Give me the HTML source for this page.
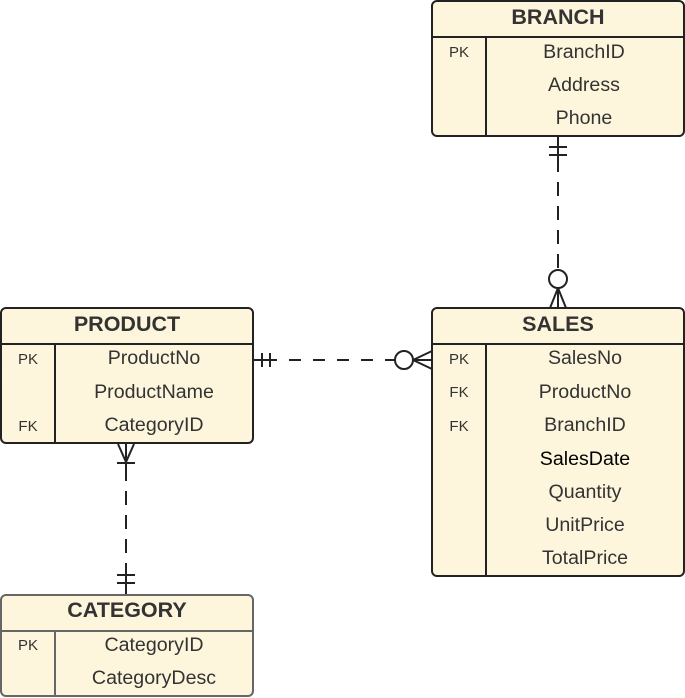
<!DOCTYPE html>
<html><head><meta charset="utf-8"><style>
html,body{margin:0;padding:0;background:#fff;}
svg{display:block;}
text{font-family:"Liberation Sans",sans-serif;fill:#333;}
.h{font-weight:bold;font-size:21.5px;}
.f{font-size:19.6px;}
.k{font-size:15px;}
</style></head><body>
<svg width="685" height="698" viewBox="0 0 685 698" xmlns="http://www.w3.org/2000/svg">
<g stroke="#222" stroke-width="2" fill="none">
<line x1="558" y1="136" x2="558" y2="270" stroke-dasharray="14 10" stroke-dashoffset="-22"/>
<line x1="558" y1="136" x2="558" y2="160"/>
<line x1="549" y1="147" x2="567" y2="147"/>
<line x1="549" y1="155" x2="567" y2="155"/>
<circle cx="558" cy="279" r="9" fill="#fff"/>
<line x1="558" y1="288" x2="558" y2="308"/>
<line x1="558" y1="288" x2="550" y2="308"/>
<line x1="558" y1="288" x2="566" y2="308"/>
<line x1="253" y1="360" x2="395" y2="360" stroke-dasharray="12 12" stroke-dashoffset="-12"/>
<line x1="253" y1="360" x2="276" y2="360"/>
<line x1="262" y1="353" x2="262" y2="367"/>
<line x1="270" y1="353" x2="270" y2="367"/>
<circle cx="404" cy="360" r="9" fill="#fff"/>
<line x1="413" y1="360" x2="432" y2="360"/>
<line x1="413" y1="360" x2="432" y2="351"/>
<line x1="413" y1="360" x2="432" y2="369"/>
<line x1="126" y1="443" x2="126" y2="595" stroke-dasharray="14 10" stroke-dashoffset="-24"/>
<line x1="126" y1="443" x2="126" y2="470"/>
<line x1="126" y1="462" x2="118" y2="444"/>
<line x1="126" y1="462" x2="134" y2="444"/>
<line x1="117" y1="463" x2="135" y2="463"/>
<line x1="126" y1="568" x2="126" y2="595"/>
<line x1="117" y1="575" x2="135" y2="575"/>
<line x1="117" y1="583" x2="135" y2="583"/>
</g>
<g stroke="#222" stroke-width="2">
<rect x="432" y="1" width="252" height="135" rx="5" fill="#fdf6dc"/>
<line x1="432" y1="37" x2="684" y2="37"/>
<line x1="486" y1="37" x2="486" y2="136"/>
</g>
<text class="h" x="558" y="24" text-anchor="middle">BRANCH</text>
<text class="k" x="459" y="57" text-anchor="middle">PK</text>
<text class="f" x="584" y="58" text-anchor="middle">BranchID</text>
<text class="f" x="584" y="91" text-anchor="middle">Address</text>
<text class="f" x="584" y="124" text-anchor="middle">Phone</text>
<g stroke="#222" stroke-width="2">
<rect x="1" y="308" width="252" height="135" rx="5" fill="#fdf6dc"/>
<line x1="1" y1="344" x2="253" y2="344"/>
<line x1="55" y1="344" x2="55" y2="443"/>
</g>
<text class="h" x="127" y="331" text-anchor="middle">PRODUCT</text>
<text class="k" x="28" y="364" text-anchor="middle">PK</text>
<text class="k" x="28" y="431" text-anchor="middle">FK</text>
<text class="f" x="154" y="364" text-anchor="middle">ProductNo</text>
<text class="f" x="154" y="398" text-anchor="middle">ProductName</text>
<text class="f" x="154" y="431" text-anchor="middle">CategoryID</text>
<g stroke="#222" stroke-width="2">
<rect x="432" y="308" width="252" height="268" rx="5" fill="#fdf6dc"/>
<line x1="432" y1="344" x2="684" y2="344"/>
<line x1="486" y1="344" x2="486" y2="576"/>
</g>
<text class="h" x="558" y="331" text-anchor="middle">SALES</text>
<text class="k" x="459" y="364" text-anchor="middle">PK</text>
<text class="k" x="459" y="397" text-anchor="middle">FK</text>
<text class="k" x="459" y="431" text-anchor="middle">FK</text>
<text class="f" x="585" y="364" text-anchor="middle">SalesNo</text>
<text class="f" x="585" y="398" text-anchor="middle">ProductNo</text>
<text class="f" x="585" y="431" text-anchor="middle">BranchID</text>
<text class="f" x="585" y="465" text-anchor="middle" style="fill:#000">SalesDate</text>
<text class="f" x="585" y="498" text-anchor="middle">Quantity</text>
<text class="f" x="585" y="531" text-anchor="middle">UnitPrice</text>
<text class="f" x="585" y="564" text-anchor="middle">TotalPrice</text>
<g stroke="#666" stroke-width="2">
<rect x="1" y="595" width="252" height="101" rx="5" fill="#fdf6dc"/>
<line x1="1" y1="631" x2="253" y2="631"/>
<line x1="55" y1="631" x2="55" y2="696"/>
</g>
<text class="h" x="127" y="617" text-anchor="middle">CATEGORY</text>
<text class="k" x="28" y="650" text-anchor="middle">PK</text>
<text class="f" x="154" y="651" text-anchor="middle">CategoryID</text>
<text class="f" x="154" y="684" text-anchor="middle">CategoryDesc</text>
</svg>
</body></html>
